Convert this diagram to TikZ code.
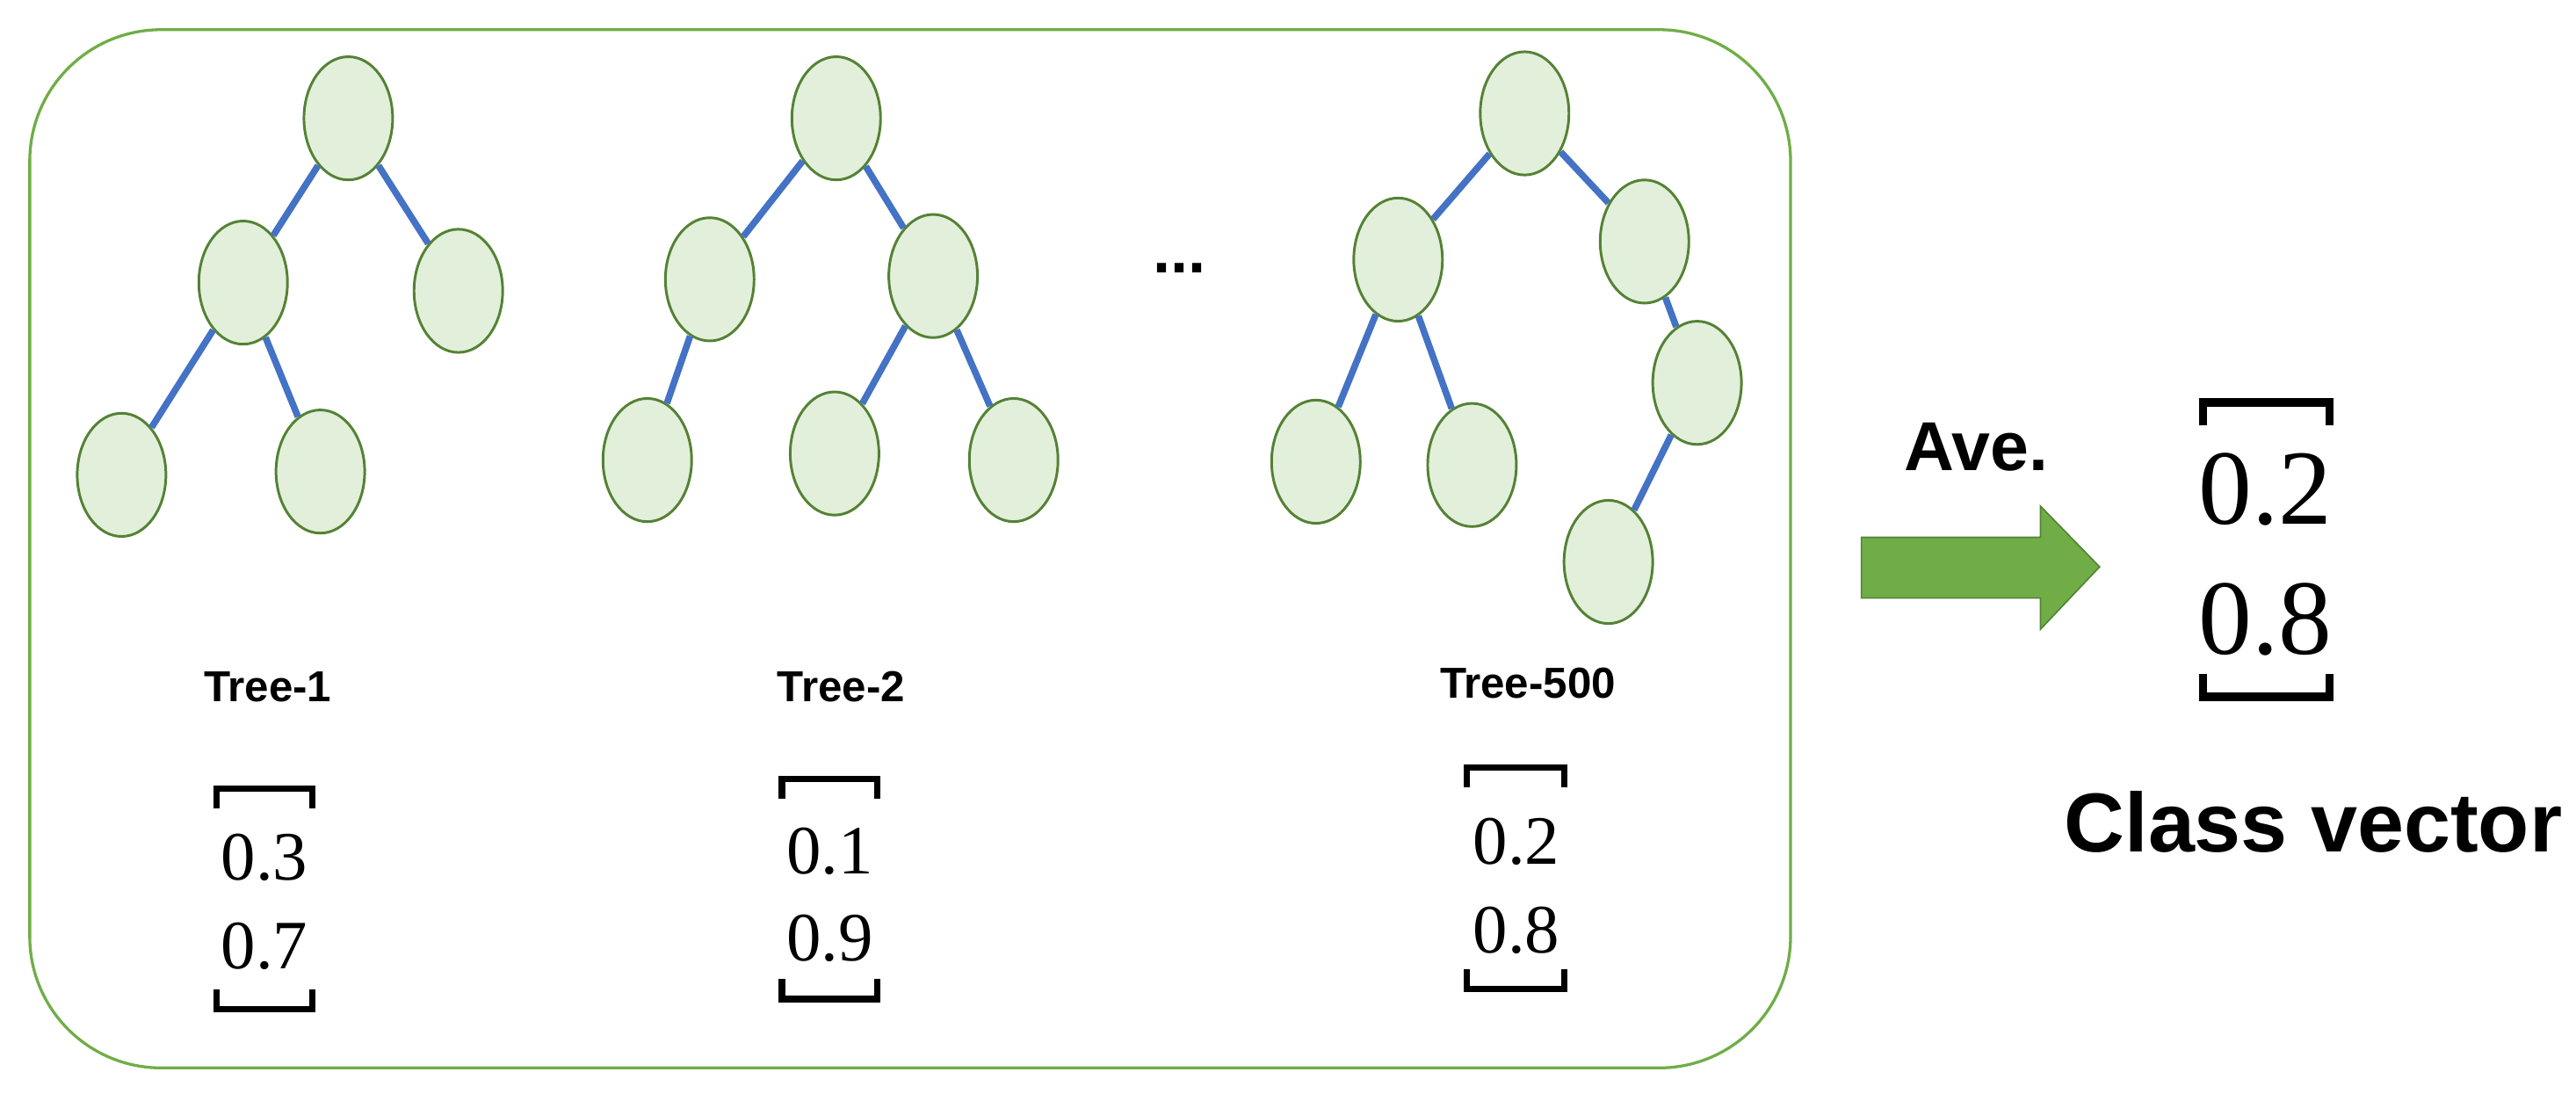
\documentclass[tikz,border=0pt]{standalone}
\usepackage{fontspec}
\setmainfont{Liberation Serif}
\newfontfamily\lab{Liberation Sans}
\usetikzlibrary{shapes.geometric}
\definecolor{nfill}{RGB}{226,239,218}
\definecolor{nline}{RGB}{84,130,53}
\definecolor{eblue}{RGB}{68,114,196}
\definecolor{agreen}{RGB}{112,173,71}
\begin{document}
\begin{tikzpicture}[x=0.02cm,y=-0.02cm,
 tn/.style={ellipse,draw=nline,fill=nfill,line width=0.9pt,minimum width=1.08cm,minimum height=1.5cm,inner sep=0pt},
 ed/.style={draw=eblue,line width=2.3pt},
 tl/.style={font=\lab\bfseries\fontsize{15}{18}\selectfont},
 sv/.style={font=\fontsize{24}{26}\selectfont},
 bv/.style={font=\fontsize{37}{40}\selectfont},
 br/.style={line width=2.2pt}]
\useasboundingbox (0,0) rectangle (1568,669.6);
\node[draw=agreen,line width=1pt,rounded corners=1.6cm,minimum width=21.44cm,minimum height=12.64cm] (frame) at (554,334) {};
% tree 1
\node[tn] (a0) at (212,72) {};
\node[tn] (a1) at (148,172) {};
\node[tn] (a2) at (279,177) {};
\node[tn] (a3) at (74,289) {};
\node[tn] (a4) at (195,287) {};
\draw[ed] (a0)--(a1) (a0)--(a2) (a1)--(a3) (a1)--(a4);
% tree 2
\node[tn] (b0) at (509,72) {};
\node[tn] (b1) at (432,170) {};
\node[tn] (b2) at (568,168) {};
\node[tn] (b3) at (394,280) {};
\node[tn] (b4) at (508,276) {};
\node[tn] (b5) at (617,280) {};
\draw[ed] (b0)--(b1) (b0)--(b2) (b1)--(b3) (b2)--(b4) (b2)--(b5);
% tree 3
\node[tn] (c0) at (928,69) {};
\node[tn] (c1) at (851,158) {};
\node[tn] (c2) at (1001,147) {};
\node[tn] (c3) at (1033,233) {};
\node[tn] (c4) at (801,281) {};
\node[tn] (c5) at (896,283) {};
\node[tn] (c6) at (979,342) {};
\draw[ed] (c0)--(c1) (c0)--(c2) (c2)--(c3) (c3)--(c6) (c1)--(c4) (c1)--(c5);
\node[font=\lab\bfseries\fontsize{22}{24}\selectfont] (dots) at (718,163) {...};
% labels
\node[tl] (t1) at (163,418) {Tree-1};
\node[tl] (t2) at (512,418) {Tree-2};
\node[tl] (t3) at (930,416) {Tree-500};
% small vectors
\node[sv] (v1a) at (161,522) {0.3};
\node[sv] (v1b) at (161,576) {0.7};
\draw[br] (132,492)--(132,480)--(190,480)--(190,492);
\draw[br] (132,602)--(132,614)--(190,614)--(190,602);
\node[sv] (v2a) at (505,518) {0.1};
\node[sv] (v2b) at (505,571) {0.9};
\draw[br] (476,486)--(476,474)--(534,474)--(534,486);
\draw[br] (476,596)--(476,608)--(534,608)--(534,596);
\node[sv] (v3a) at (923,512) {0.2};
\node[sv] (v3b) at (923,566) {0.8};
\draw[br] (893,479)--(893,467)--(952,467)--(952,479);
\draw[br] (893,590)--(893,602)--(952,602)--(952,590);
% arrow
\draw[fill=agreen,draw=nline,line width=0.5pt] (1133,327)--(1242,327)--(1242,308)--(1278,345)--(1242,383)--(1242,364)--(1133,364)--cycle;
\node[font=\lab\bfseries\fontsize{24}{28}\selectfont] (ave) at (1203,272) {Ave.};
% big vector
\node[bv] (w1) at (1379,298) {0.2};
\node[bv] (w2) at (1379,377) {0.8};
\draw[line width=3pt] (1341,259)--(1341,245)--(1418,245)--(1418,259);
\draw[line width=3pt] (1341,410)--(1341,424)--(1418,424)--(1418,410);
\node[font=\lab\bfseries\fontsize{29}{34}\selectfont,anchor=east,inner sep=0pt] (cv) at (1560,500) {Class vector};
\end{tikzpicture}
\end{document}
